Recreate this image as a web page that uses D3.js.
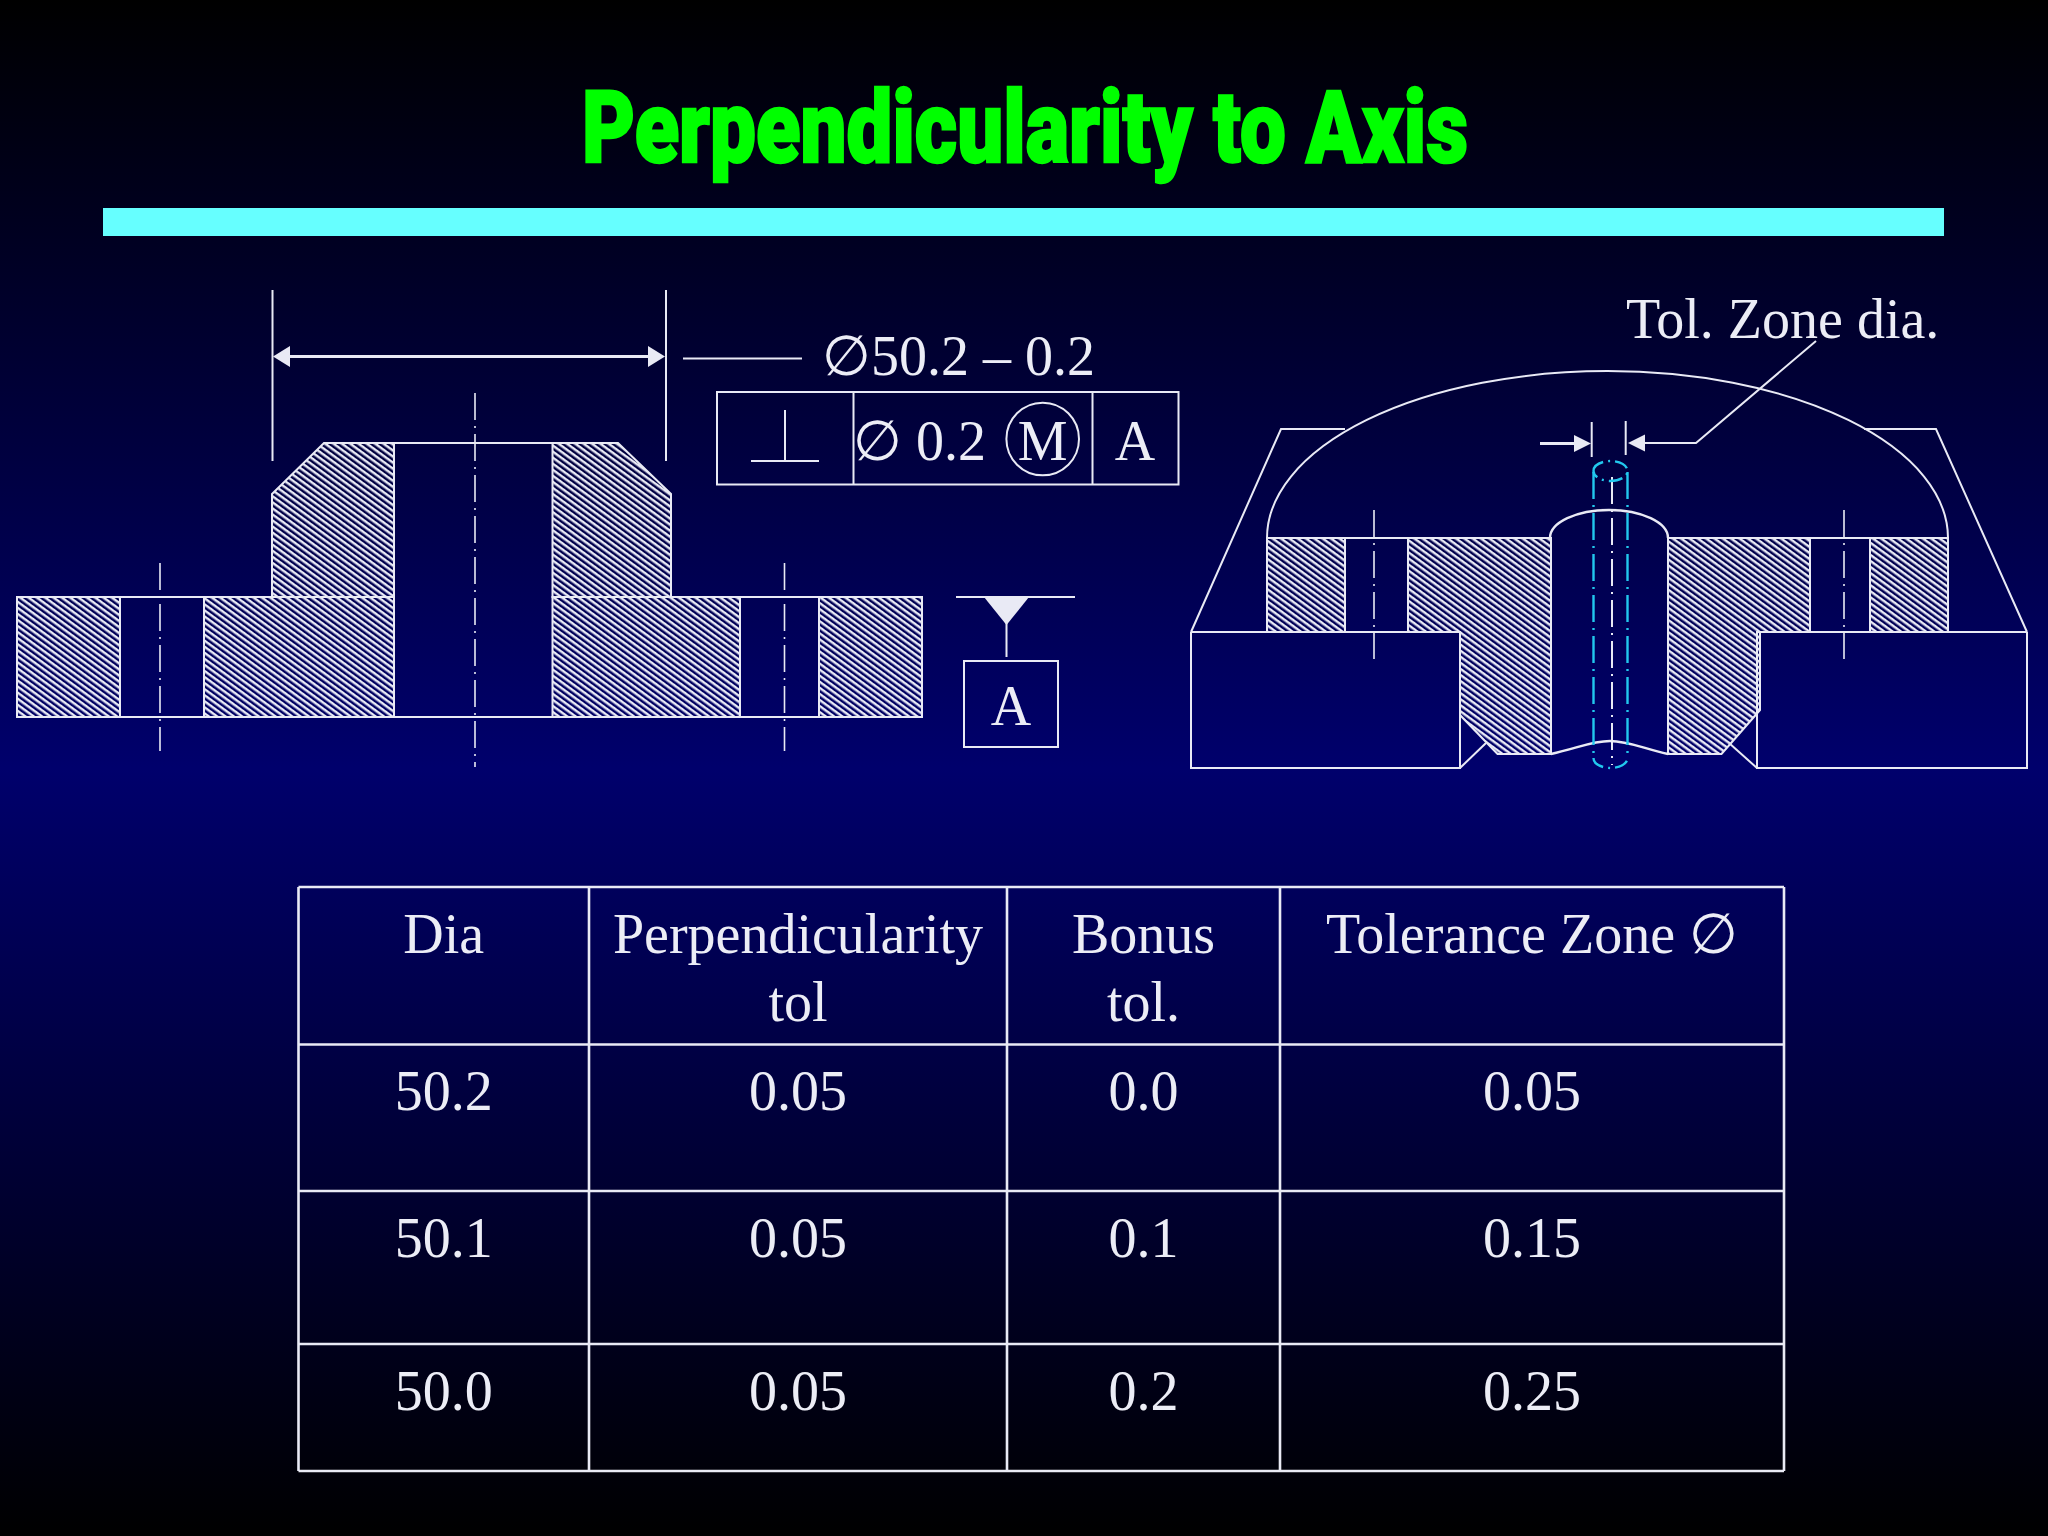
<!DOCTYPE html>
<html>
<head>
<meta charset="utf-8">
<script src="https://cdnjs.cloudflare.com/ajax/libs/d3/7.8.5/d3.min.js"></script>
<style>
html,body{margin:0;padding:0;background:#000;}
svg{display:block;}
text{font-family:"Liberation Serif","Times New Roman",serif;fill:#ecedf6;font-size:56px;}
</style>
</head>
<body>
<svg id="c" width="2048" height="1536"></svg>
<script>
// ---------- table data ----------
const titleText = "Perpendicularity to Axis";
const columnKeys = ["dia","perp","bonus","zone"];
const headerLines = [["Dia"],["Perpendicularity","tol"],["Bonus","tol."],["Tolerance Zone ∅"]];
const diaValues = ["50.2","50.1","50.0"];
const perpTolValues = ["0.05","0.05","0.05"];
const bonusTolValues = ["0.0","0.1","0.2"];
const zoneDiaValues = ["0.05","0.15","0.25"];
const rowKeys = ["head","r0","r1","r2"];

// ---------- layout ----------
const W = 2048, H = 1536;
const colEdges = [298.5,589,1007,1280,1784];
const rowEdges = [887,1044.5,1191,1344,1471];
const rowBase  = [952.7,1110,1257,1409.5];
const LINE = "#e9eaf5", CYAN = "#22c8ee";
const svg = d3.select("#c");
const defs = svg.append("defs");

const grad = defs.append("linearGradient").attr("id","bg").attr("x1",0).attr("x2",0).attr("y1",0).attr("y2",1);
[[0,"#000000"],[0.5,"#00006c"],[1,"#000000"]].forEach(s=>grad.append("stop").attr("offset",s[0]).attr("stop-color",s[1]));
const pat = defs.append("pattern").attr("id","hatch").attr("patternUnits","userSpaceOnUse")
  .attr("width",10).attr("height",4.9).attr("patternTransform","rotate(36)");
pat.append("rect").attr("width",10).attr("height",2.45).attr("fill","#e9eaf5");

svg.append("rect").attr("width",W).attr("height",H).attr("fill","url(#bg)");

// title and band
svg.append("text").attr("x",582).attr("y",161.5).attr("textLength",886).attr("lengthAdjust","spacingAndGlyphs")
  .style("font-family","Roboto, 'Liberation Sans', sans-serif").style("font-weight",900).style("font-size","101px")
  .style("fill","#00ff00").style("stroke","#00ff00").style("stroke-width","2.5px").text(titleText);
svg.append("rect").attr("x",103).attr("y",208).attr("width",1841).attr("height",28).attr("fill","#66ffff");

// helpers
const x = d3.scaleIdentity(), y = d3.scaleIdentity();
const poly = d3.line().x(d=>x(d[0])).y(d=>y(d[1]));
const g = svg.append("g");
function hatch(p){ g.append("path").attr("d",poly(p)+"Z").attr("fill","url(#hatch)").attr("stroke",LINE).attr("stroke-width",2); }
function line(p,w=2,c=LINE,dash=null){
  const e=g.append("path").attr("d",poly(p)).attr("fill","none").attr("stroke",c).attr("stroke-width",w);
  if(dash) e.attr("stroke-dasharray",dash);
}
function raw(d,w=2,c=LINE,dash=null){
  const e=g.append("path").attr("d",d).attr("fill","none").attr("stroke",c).attr("stroke-width",w);
  if(dash) e.attr("stroke-dasharray",dash);
}
function solid(p){ g.append("path").attr("d",poly(p)+"Z").attr("fill",LINE); }
function label(s,tx,ty,anchor="start"){ g.append("text").attr("x",tx).attr("y",ty).attr("text-anchor",anchor).text(s); }
const CENTER = "27 6 2 6";

// ---------- left drawing ----------
[
 [[17,597],[120,597],[120,717],[17,717]],
 [[204,597],[394,597],[394,717],[204,717]],
 [[272,494],[324,443],[394,443],[394,597],[272,597]],
 [[552.5,443],[618,443],[671,494],[671,597],[552.5,597]],
 [[552.5,597],[740,597],[740,717],[552.5,717]],
 [[819,597],[922,597],[922,717],[819,717]]
].forEach(hatch);
line([[324,443],[618,443]]);
line([[120,597],[204,597]]); line([[120,717],[204,717]]);
line([[394,717],[552,717]]);
line([[740,597],[819,597]]); line([[740,717],[819,717]]);
line([[475,393],[475,767]],1.6,LINE,CENTER);
line([[160,563],[160,751]],1.6,LINE,CENTER);
line([[784.5,563],[784.5,751]],1.6,LINE,CENTER);
// dimension
line([[272.5,290],[272.5,461]]); line([[666,290],[666,461]]);
line([[285,356.5],[654,356.5]],3);
solid([[273,356.5],[290,346],[290,367]]);
solid([[665,356.5],[648,346],[648,367]]);
line([[683,358.5],[802,358.5]]);
label("∅",846,375,"middle"); label("50.2 – 0.2",871,375);
// feature control frame
g.append("rect").attr("x",717).attr("y",392).attr("width",461.5).attr("height",92.5).attr("fill","none").attr("stroke",LINE).attr("stroke-width",2);
line([[853.5,392],[853.5,484.5]]); line([[1092.5,392],[1092.5,484.5]]);
line([[751,461],[819,461]]); line([[785,410],[785,461]]);
label("∅",877,459.5,"middle"); label("0.2",916,459.5);
g.append("circle").attr("cx",1042.7).attr("cy",439).attr("r",36.3).attr("fill","none").attr("stroke",LINE).attr("stroke-width",2);
label("M",1042.7,459.5,"middle"); label("A",1135,459.5,"middle");
// datum
line([[956,597],[1075,597]]);
solid([[984,597],[1029,597],[1006.5,625]]);
line([[1006.5,620],[1006.5,657]]);
g.append("rect").attr("x",964).attr("y",661).attr("width",94).attr("height",86).attr("fill","none").attr("stroke",LINE).attr("stroke-width",2);
label("A",1011,725,"middle");

// ---------- right drawing ----------
[
 [[1267,538],[1345,538],[1345,632],[1267,632]],
 [[1408,538],[1551,538],[1551,754],[1497.5,754],[1460,715],[1460,632],[1408,632]],
 [[1668,538],[1810,538],[1810,632],[1760,632],[1760,710],[1721.5,754],[1668,754]],
 [[1870,538],[1948,538],[1948,632],[1870,632]]
].forEach(hatch);
line([[1345,538],[1408,538]]); line([[1810,538],[1870,538]]);
raw("M1267,538A340.5,167 0 0 1 1948,538",2);
raw("M1550,538A59,28 0 0 1 1668,538",2.4);
raw("M1551,754C1578,748 1592,741 1610,741C1628,741 1642,748 1668,754",2.4);
line([[1191,632],[1281,429],[1345,429]]);
line([[1864,429],[1936,429],[2027,632]]);
line([[1191,632],[1460,632],[1460,768],[1191,768],[1191,632]]);
line([[2027,632],[1757,632],[1757,768],[2027,768],[2027,632]]);
line([[1460,768],[1486,743]]); line([[1757,768],[1729,743]]);
line([[1374,510],[1374,659]],1.6,LINE,CENTER);
line([[1844,510],[1844,659]],1.6,LINE,CENTER);
// tolerance zone cylinder
line([[1612,477],[1612,765]],2,LINE,CENTER);
raw("M1593.5,471A17,10 0 0 1 1627.5,471A17,10 0 0 1 1593.5,471",2.4,CYAN,"14 5 2 5");
line([[1593.5,472],[1593.5,758]],2.4,CYAN,CENTER);
line([[1627.5,472],[1627.5,758]],2.4,CYAN,CENTER);
raw("M1593.5,758A17,10 0 0 0 1627.5,758",2.4,CYAN,"14 5 2 5");
// width arrows and leader
line([[1591.7,422],[1591.7,457]]); line([[1625.7,421],[1625.7,455]]);
line([[1540,443.5],[1576,443.5]],3);
solid([[1591,443.5],[1574,435],[1574,452]]);
solid([[1628,443],[1645,434.5],[1645,451.5]]);
line([[1643,443],[1696,443],[1816,341]]);
label("Tol. Zone dia.",1626,338);

// ---------- table ----------
const colScale = d3.scaleOrdinal().domain(columnKeys).range(colEdges.slice(0,4));
const colEnd   = d3.scaleOrdinal().domain(columnKeys).range(colEdges.slice(1));
const rowScale = d3.scaleOrdinal().domain(rowKeys).range(rowBase);
const tbl = svg.append("g");
colEdges.forEach(cx=>tbl.append("line").attr("x1",cx).attr("x2",cx).attr("y1",rowEdges[0]).attr("y2",rowEdges[4]).attr("stroke",LINE).attr("stroke-width",2.6));
rowEdges.forEach(ry=>tbl.append("line").attr("y1",ry).attr("y2",ry).attr("x1",colEdges[0]).attr("x2",colEdges[4]).attr("stroke",LINE).attr("stroke-width",2.6));
const mid = k => (colScale(k)+colEnd(k))/2;
columnKeys.forEach((k,i)=>{
  headerLines[i].forEach((t,j)=>{
    tbl.append("text").attr("x",mid(k)).attr("y",rowScale("head")+j*68).attr("text-anchor","middle").text(t);
  });
});
[diaValues,perpTolValues,bonusTolValues,zoneDiaValues].forEach((vals,i)=>{
  vals.forEach((v,r)=>{
    tbl.append("text").attr("x",mid(columnKeys[i])).attr("y",rowScale(rowKeys[r+1])).attr("text-anchor","middle").text(v);
  });
});
</script>
</body>
</html>
